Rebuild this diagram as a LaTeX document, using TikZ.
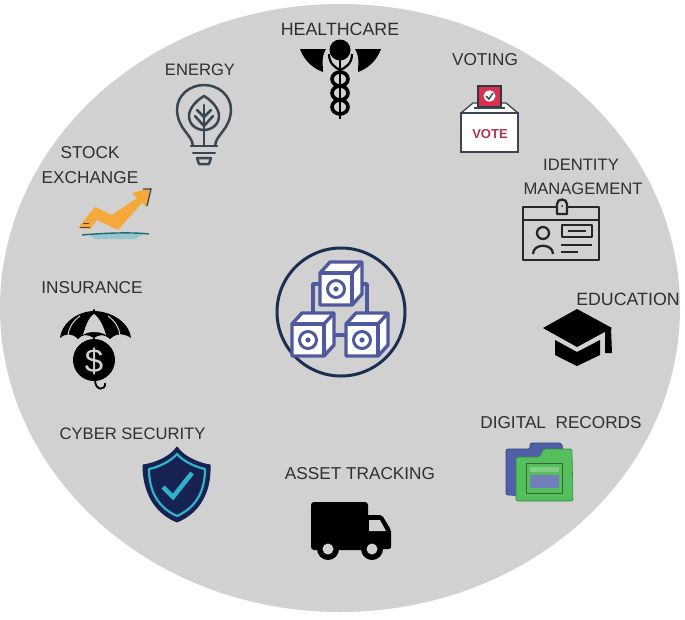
\documentclass[tikz,border=0pt]{standalone}
\usepackage{fontspec}
\setmainfont{Liberation Sans}
\definecolor{bggray}{HTML}{D0D1D0}
\definecolor{txt}{HTML}{2F2F33}
\definecolor{navy}{HTML}{1B2F55}
\definecolor{cubeblue}{HTML}{4F5A9E}
\definecolor{slate}{HTML}{3A4753}
\definecolor{votered}{HTML}{D8304F}
\definecolor{orangeup}{HTML}{F5A93A}
\definecolor{shieldnavy}{HTML}{16224F}
\definecolor{shieldcyan}{HTML}{2FB3CC}
\definecolor{foldblue}{HTML}{4F5FA8}
\definecolor{foldgreen}{HTML}{55BF5E}
\tikzset{
  lab/.style={font=\fontsize{17.2}{18}\selectfont,text=txt,inner sep=0pt},
  labs/.style={font=\fontsize{16.6}{18}\selectfont,text=txt,inner sep=0pt},
  labl/.style={font=\fontsize{17.8}{18}\selectfont,text=txt,inner sep=0pt},
  cubeline/.style={draw=cubeblue,line width=3.4pt,line join=round},
  slateline/.style={draw=slate,line width=2.5pt,line cap=round,line join=round},
  idline/.style={draw=black!85,line width=2.3pt,line join=round},
  cubeicon/.pic={
    \path[cubeline,fill=white] (0,0) -- (10,-11) -- (42,-11) -- (42,21) -- (32,32) -- (0,32) -- cycle;
    \draw[cubeline] (0,0) -- (32,0) -- (32,32);
    \draw[cubeline] (32,0) -- (42,-11);
    \draw[cubeline,line width=3pt] (16,16) circle (8.5);
    \fill[cubeblue] (16,16) circle (2.6);
  }
}
\begin{document}
\begin{tikzpicture}[x=1pt,y=-1pt]
\useasboundingbox (0,0) rectangle (685,619);
\fill[white] (0,0) rectangle (685,619);
\fill[bggray] (340,308) ellipse [x radius=340,y radius=304];

% centre
\draw[navy,line width=3pt] (341,312) circle (64);
\draw[cubeline] (313,315) -- (313,284) -- (320,284);
\draw[cubeline] (367,315) -- (367,284) -- (361,284);
\draw[cubeline] (335,335) -- (346,335);
\pic at (320,273) {cubeicon};
\pic at (292,324) {cubeicon};
\pic at (346,324) {cubeicon};

% caduceus
\fill[black] (300,49) -- (326,49) .. controls (321,57) and (323,65) .. (323,72) .. controls (312,68) and (304,60) .. cycle;
\fill[black] (381,49) -- (355,49) .. controls (360,57) and (358,65) .. (358,72) .. controls (369,68) and (377,60) .. cycle;
\fill[black] (340,50) circle (10.5);
\draw[black,line width=2.2pt] (329,54) .. controls (329,64) and (336,68) .. (340,70) .. controls (345,68) and (352,64) .. (352,54);
\draw[black,line width=2.4pt] (340,60) -- (340,119);
\foreach \yy in {79,93,107}{\draw[black,line width=3.6pt] (340,\yy) ellipse [x radius=8,y radius=7];}

% bulb
\draw[slateline] (193,146) .. controls (192,134) and (178,130) .. (177,110) .. controls (177,95) and (190,85) .. (204,85) .. controls (218,85) and (231,95) .. (231,110) .. controls (230,130) and (216,134) .. (215,146);
\draw[slateline] (204,96) .. controls (194,102) and (189,110) .. (189,116) .. controls (189,125) and (197,130) .. (204,130) .. controls (211,130) and (219,125) .. (219,116) .. controls (219,110) and (214,102) .. (204,96) -- cycle;
\draw[slateline] (204,105) -- (204,146);
\draw[slateline] (197,110) -- (204,117) -- (211,110);
\draw[slateline] (195,116) -- (204,126) -- (213,116);
\draw[slateline] (191,146) -- (217,146) (193,153) -- (215,153);
\draw[slateline] (197,158) -- (211,158) -- (209,164) -- (199,164) -- cycle;

% ballot box
\path[draw=slate,line width=1.3pt,fill=white,line join=round] (461,113) -- (473,103) -- (506,103) -- (518,113) -- cycle;
\path[draw=slate!80!black,line width=1.3pt,fill=votered] (478,86) rectangle (501,107);
\fill[slate] (474,107) rectangle (505,109);
\fill[white] (489.5,96) ellipse [x radius=6,y radius=5.5];
\draw[slate,line width=1.5pt] (486,96) -- (489,99) -- (493,93);
\path[draw=slate,line width=1.3pt,fill=white] (461,113) rectangle (518,152);
\node[font=\bfseries\fontsize{13}{14}\selectfont,text=votered!75!slate,inner sep=0pt] (votetxt) at (490,134) {VOTE};

% ID card
\path[idline] (523,207) rectangle (599,260);
\draw[idline] (523,220) -- (599,220);
\path[idline,fill=bggray] (557,214) -- (557,204) .. controls (557,198) and (567,198) .. (567,204) -- (567,214) -- cycle;
\fill[black!85] (562,206) circle (1);
\draw[idline] (543,233) circle (6);
\draw[idline] (533,254) .. controls (533,243) and (553,243) .. (553,254);
\draw[idline] (562,225) rectangle (592,237);
\draw[black!85,line width=2.5pt] (568,231) -- (586,231);
\draw[idline] (561,245) -- (592,245) (561,252) -- (578,252);

% stock arrow
\fill[orangeup] (78,228) -- (95,207) -- (112,215) -- (137,198) -- (132,193) -- (150,188) -- (147,207) -- (142,203) -- (118,230) -- (97,220) -- (90,229) -- cycle;
\draw[slate,line width=1.3pt] (143,189) -- (151,189) -- (147,206);
\draw[slate,line width=1pt] (80,227) -- (90,227) (83,223) -- (89,223);
\fill[shieldcyan!35!bggray] (88,234) -- (145,233.5) -- (135,239) -- (95,239) -- cycle;
\draw[shieldcyan!60!black,line width=1.4pt] (82,235) .. controls (105,233) and (130,232) .. (149,234);

% umbrella
\fill[black] (93.5,309) -- (94.5,309) -- (95,311) .. controls (115,312) and (130,325) .. (131,338) .. controls (124,333) and (116,333) .. (110,339) .. controls (104,334) and (100,334) .. (94,338) .. controls (88,334) and (82,334) .. (78,339) .. controls (72,333) and (66,333) .. (60,338) .. controls (61,325) and (75,312) .. (93,311) -- cycle;
\fill[bggray] (94,314) .. controls (88,318) and (85,328) .. (83,335) .. controls (88,331) and (100,331) .. (106,335) .. controls (104,328) and (100,318) .. (94,314) -- cycle;
\draw[bggray,line width=1pt] (80,316) .. controls (72,322) and (69,328) .. (68,335);
\draw[bggray,line width=1pt] (108,316) .. controls (116,322) and (119,328) .. (120,335);
\fill[black] (94,360) circle (21);
\node[font=\fontsize{33}{34}\selectfont,text=bggray,inner sep=0pt] (dollar) at (94,361) {\$};
\draw[black,line width=1.8pt] (94,338) -- (94,345);
\draw[black,line width=1.8pt] (95,380) .. controls (95,391) and (106,391) .. (105,383);

% graduation cap
\fill[black] (543,328) -- (577,309) -- (612,328) -- (577,347) -- cycle;
\fill[black] (605,331) -- (611,328) -- (612,353) -- (605,353) -- cycle;
\fill[black] (555,340) -- (577,352) -- (600,340) -- (600,355) -- (577,366) -- (555,355) -- cycle;

% folders
\path[fill=foldblue,draw=foldblue!70!black,line width=.6pt,rounded corners=2pt] (506,449) -- (530,449) -- (530,443) -- (562,443) -- (563,455) -- (563,497) -- (506,495) -- cycle;
\path[fill=foldgreen,draw=foldgreen!70!black,line width=.6pt,rounded corners=2pt] (516,457) -- (540,457) -- (543,449) -- (572,449) -- (573,501) -- (516,501) -- cycle;
\draw[foldgreen!55!black,line width=1pt] (526,463) rectangle (562,493);
\fill[foldgreen!75!white] (530,467) rectangle (559,472);
\fill[foldblue!80!white] (530,475) rectangle (559,488);

% shield
\path[fill=shieldnavy,draw=shieldnavy,line width=1pt,line join=round] (177,447) .. controls (183,456) and (197,463) .. (210,465) .. controls (211,490) and (201,512) .. (177,522) .. controls (153,512) and (143,490) .. (143,465) .. controls (157,463) and (171,456) .. cycle;
\draw[shieldcyan,line width=2.2pt,line join=round] (177,454) .. controls (183,461) and (195,467) .. (205,469) .. controls (205,490) and (197,507) .. (177,516) .. controls (157,507) and (149,490) .. (149,469) .. controls (159,467) and (171,461) .. cycle;
\draw[shieldcyan,line width=4.5pt] (163,487) -- (173,497) -- (192,473);

% truck
\fill[black,rounded corners=3pt] (311,502) rectangle (368,550);
\fill[black,rounded corners=2pt] (366,515) -- (382,515) -- (391,530) -- (391,549) -- (366,549) -- cycle;
\fill[bggray] (369,520) -- (380,520) -- (386,531) -- (369,531) -- cycle;
\foreach \xx in {328,372}{
  \fill[black] (\xx,549) circle (11);
  \fill[bggray] (\xx,549) circle (5.5);
}

% labels
\node[labl] (healthcare) at (340,29.5) {HEALTHCARE};
\node[labs] (energy) at (200,70) {ENERGY};
\node[lab] (voting) at (485,59.5) {VOTING};
\node[labs] (identity) at (581,164.5) {IDENTITY};
\node[labs] (management) at (583,188.5) {MANAGEMENT};
\node[lab] (stock) at (90,152.5) {STOCK};
\node[lab] (exchange) at (90,177.5) {EXCHANGE};
\node[lab] (insurance) at (92,288) {INSURANCE};
\node[labl] (education) at (628,299.5) {EDUCATION};
\node[labs] (cyber) at (132.5,433.5) {CYBER SECURITY};
\node[lab] (digital) at (561,422.5) {DIGITAL\ \ RECORDS};
\node[lab] (asset) at (360,473.5) {ASSET TRACKING};
\end{tikzpicture}
\end{document}
